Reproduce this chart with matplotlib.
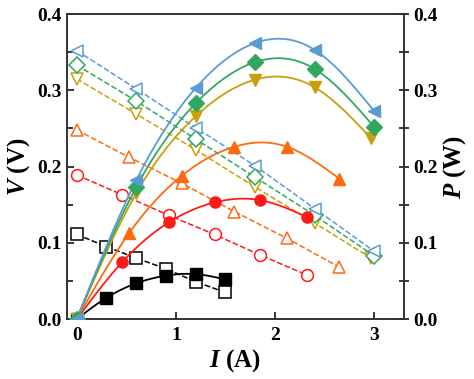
import matplotlib
matplotlib.use("Agg")
import matplotlib.pyplot as plt
import numpy as np

# current I (A), voltage V (V, open symbols) and power P (W, filled symbols)
I_blue = [0.0, 0.6, 1.2, 1.8, 2.4, 3.0]
V_blue = [0.352, 0.302, 0.251, 0.201, 0.145, 0.089]
P_blue = [0.0, 0.182, 0.303, 0.362, 0.353, 0.273]

I_green = [0.0, 0.6, 1.2, 1.8, 2.4, 3.0]
V_green = [0.333, 0.286, 0.236, 0.186, 0.136, 0.083]
P_green = [0.0, 0.173, 0.283, 0.337, 0.328, 0.252]

I_gold = [0.0, 0.6, 1.2, 1.8, 2.4, 2.97]
V_gold = [0.315, 0.269, 0.222, 0.173, 0.126, 0.080]
P_gold = [0.0, 0.165, 0.266, 0.314, 0.304, 0.237]

I_orange = [0.0, 0.53, 1.06, 1.59, 2.12, 2.65]
V_orange = [0.248, 0.212, 0.178, 0.141, 0.106, 0.068]
P_orange = [0.0, 0.113, 0.188, 0.226, 0.226, 0.184]

I_red = [0.0, 0.46, 0.93, 1.39, 1.85, 2.32]
V_red = [0.189, 0.163, 0.136, 0.111, 0.084, 0.058]
P_red = [0.0, 0.075, 0.127, 0.153, 0.156, 0.134]

I_black = [0.0, 0.3, 0.6, 0.9, 1.2, 1.5]
V_black = [0.111, 0.095, 0.080, 0.066, 0.049, 0.035]
P_black = [0.0, 0.028, 0.047, 0.057, 0.059, 0.052]

SERIES = [
    (I_black, V_black, P_black, "black", "s"),
    (I_red, V_red, P_red, "#ff1a1a", "o"),
    (I_orange, V_orange, P_orange, "#ff6a10", "^"),
    (I_gold, V_gold, P_gold, "#c9a00c", "v"),
    (I_green, V_green, P_green, "#30a860", "D"),
    (I_blue, V_blue, P_blue, "#5b9bd5", "<"),
]


def spline(x, y, n=200):
    """natural cubic spline through the points, for the smooth P curves"""
    x = np.asarray(x, float)
    y = np.asarray(y, float)
    k = len(x)
    h = np.diff(x)
    A = np.zeros((k, k))
    b = np.zeros(k)
    A[0, 0] = A[-1, -1] = 1
    for i in range(1, k - 1):
        A[i, i - 1] = h[i - 1]
        A[i, i] = 2 * (h[i - 1] + h[i])
        A[i, i + 1] = h[i]
        b[i] = 6 * ((y[i + 1] - y[i]) / h[i] - (y[i] - y[i - 1]) / h[i - 1])
    M = np.linalg.solve(A, b)
    xs = np.linspace(x[0], x[-1], n)
    j = np.clip(np.searchsorted(x, xs) - 1, 0, k - 2)
    t0 = x[j + 1] - xs
    t1 = xs - x[j]
    ys = (M[j] * t0**3 + M[j + 1] * t1**3) / (6 * h[j]) \
        + (y[j] / h[j] - M[j] * h[j] / 6) * t0 \
        + (y[j + 1] / h[j] - M[j + 1] * h[j] / 6) * t1
    return xs, ys


plt.rcParams["font.family"] = "Liberation Serif"
plt.rcParams["font.weight"] = "bold"
plt.rcParams["mathtext.fontset"] = "custom"
plt.rcParams["mathtext.it"] = "Liberation Serif:italic:bold"
plt.rcParams["mathtext.rm"] = "Liberation Serif:bold"

fig = plt.figure(figsize=(4.74, 3.79), dpi=100)
ax = fig.add_axes([0.141, 0.158, 0.711, 0.805])
ax2 = ax.twinx()

for I, V, P, c, m in SERIES:
    ax.plot(I, V, "--", color=c, lw=1.1, marker=m, ms=8.5, mfc="white",
            mec=c, mew=1.1, zorder=3)
    xs, ys = spline(I, P)
    ax2.plot(xs, ys, "-", color=c, lw=1.3, zorder=3)
    ax2.plot(I, P, ls="none", marker=m, ms=8, color=c, zorder=4)

for a in (ax, ax2):
    a.set_xlim(-0.1, 3.3)
    a.set_ylim(0, 0.4)
    a.set_yticks([0.0, 0.1, 0.2, 0.3, 0.4])
    a.set_yticks([0.05, 0.15, 0.25, 0.35], minor=True)
    a.set_yticklabels(["0.0", "0.1", "0.2", "0.3", "0.4"])
    for s in a.spines.values():
        s.set_linewidth(1.2)
        s.set_color("#333333")

ax.set_xticks([0, 1, 2, 3])
ax.set_xticks([0.5, 1.5, 2.5], minor=True)
ax.tick_params(axis="both", which="both", direction="in", labelsize=14, width=1.1)
ax.tick_params(axis="y", which="major", length=5)
ax.tick_params(axis="y", which="minor", length=4)
ax.tick_params(axis="x", which="major", length=5, pad=6)
ax.tick_params(axis="x", which="minor", length=0)
ax2.tick_params(axis="y", which="both", direction="inout", labelsize=14, width=1.1,
                length=7)

ax.set_xlabel(r"$I$ (A)", fontsize=18, fontweight="bold", labelpad=2)
ax.set_ylabel(r"$V$ (V)", fontsize=18, fontweight="bold", labelpad=4)
ax2.set_ylabel(r"$P$ (W)", fontsize=18, fontweight="bold", labelpad=2)

fig.savefig("out.png", dpi=100)
